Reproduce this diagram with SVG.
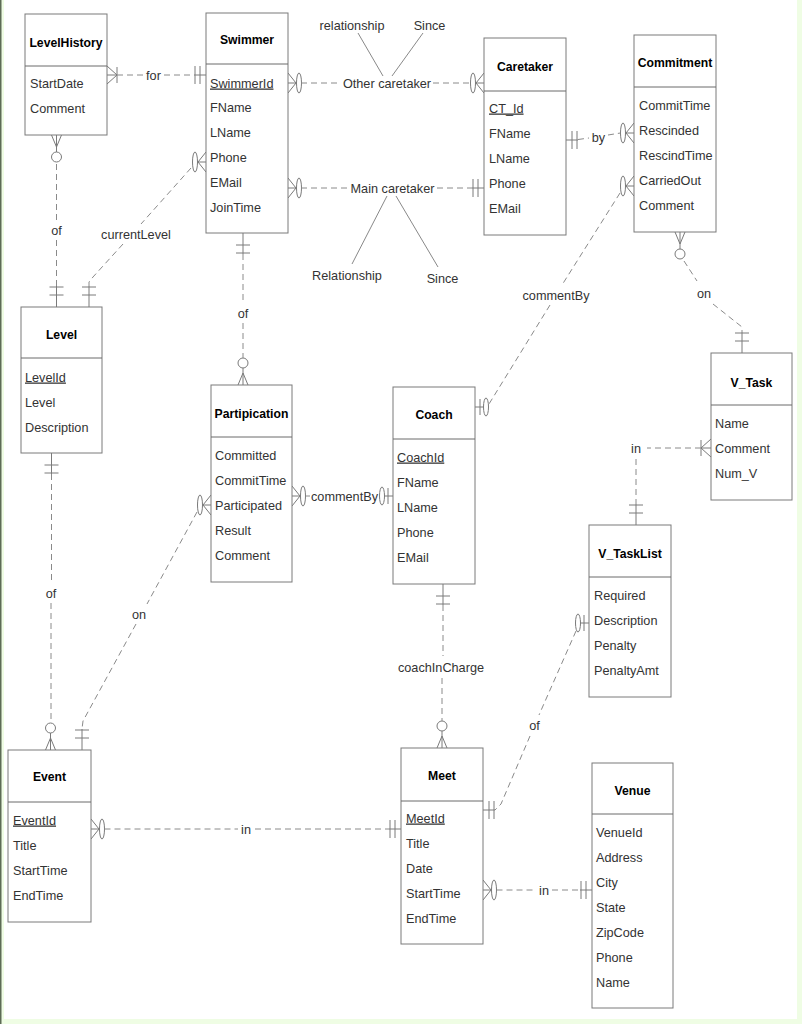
<svg xmlns="http://www.w3.org/2000/svg" width="802" height="1024" viewBox="0 0 802 1024">
<style>
.box{fill:#fff;stroke:#7a7a7a;stroke-width:1}
.div{stroke:#6a6a6a;stroke-width:1}
.title{font-family:"Liberation Sans",Arial,sans-serif;font-size:12.2px;font-weight:bold;fill:#000;text-anchor:middle}
.attr{font-family:"Liberation Sans",Arial,sans-serif;font-size:12.7px;fill:#333}
.key{text-decoration:underline}
.lbl{font-family:"Liberation Sans",Arial,sans-serif;font-size:12.7px;fill:#333;text-anchor:middle}
.dash{fill:none;stroke:#8a8a8a;stroke-width:1;stroke-dasharray:6 4}
.sym{fill:none;stroke:#7a7a7a;stroke-width:1}
.solid{fill:none;stroke:#7a7a7a;stroke-width:0.9}
</style>
<defs>
<g id="zmh" class="sym"><path d="M0,-10 L8,0 L0,10 M0,0 H8.5"/><ellipse cx="11" cy="0" rx="2.5" ry="10"/></g>
<g id="zmv" class="sym"><path d="M-5,0 L0,12 L5,0 M0,0 V17"/><circle cx="0" cy="22" r="5"/></g>
<g id="omh" class="sym"><path d="M0,-9 L10,0 L0,9 M0,0 H10 M10,-8 V8"/></g>
<g id="ooh" class="sym"><path d="M0,0 H12 M6,-9 V9 M11,-9 V9"/></g>
<g id="oov" class="sym"><path d="M0,0 V21 M-7,12 H7 M-7,20 H7"/></g>
<g id="zoh" class="sym"><path d="M0,0 H8.5 M5,-8 V8"/><ellipse cx="11" cy="0" rx="2.5" ry="9"/></g>
</defs>
<rect x="0" y="0" width="802" height="1024" fill="#effde4"/>
<rect x="4" y="0" width="793" height="1019" fill="#fff"/>
<rect x="0" y="0" width="1.5" height="1024" fill="#5d6b55"/>

<g id="connectors">
  <!-- for -->
  <use href="#omh" transform="translate(107,75)"/>
  <use href="#ooh" transform="translate(206,75) scale(-1,1)"/>
  <path class="dash" d="M117,75 H143 M164,75 H194"/>
  <text class="lbl" x="153.5" y="79.5">for</text>
  <!-- Other caretaker -->
  <use href="#zmh" transform="translate(288,83)"/>
  <use href="#zmh" transform="translate(484,83) scale(-1,1)"/>
  <path class="dash" d="M301,83 H341 M433,83 H470"/>
  <text class="lbl" x="387" y="87.5">Other caretaker</text>
  <path class="solid" d="M358,33 L383,76 M423,33 L392,76"/>
  <text class="lbl" x="352" y="29.5">relationship</text>
  <text class="lbl" x="429.5" y="29.5">Since</text>
  <!-- Main caretaker -->
  <use href="#zmh" transform="translate(288,188)"/>
  <use href="#ooh" transform="translate(484,188) scale(-1,1)"/>
  <path class="dash" d="M301,188 H348 M437,188 H472"/>
  <text class="lbl" x="392.5" y="192.5">Main caretaker</text>
  <path class="solid" d="M387,196 L352,264 M396,196 L438,267"/>
  <text class="lbl" x="347" y="279.5">Relationship</text>
  <text class="lbl" x="442.5" y="283">Since</text>
  <!-- by -->
  <use href="#ooh" transform="translate(566,140)"/>
  <use href="#zmh" transform="translate(634,133) scale(-1,1)"/>
  <path class="dash" d="M578,139.5 L589,138 M608,135 L620.5,133"/>
  <text class="lbl" x="598.5" y="141.5">by</text>
  <!-- commentBy Commitment-Coach -->
  <use href="#zmh" transform="translate(634,186) scale(-1,1)"/>
  <use href="#zoh" transform="translate(475,407)"/>
  <path class="dash" d="M620,193 L562,285 M550,305 L489,404"/>
  <text class="lbl" x="556" y="299.5">commentBy</text>
  <!-- on Commitment-V_Task -->
  <use href="#zmv" transform="translate(680,232)"/>
  <use href="#oov" transform="translate(742,353) scale(1,-1)"/>
  <path class="dash" d="M684,261 L697,281 M713,304 L742,327 V332"/>
  <text class="lbl" x="704" y="297.5">on</text>
  <!-- in V_Task-V_TaskList -->
  <use href="#omh" transform="translate(711,448) scale(-1,1)"/>
  <use href="#oov" transform="translate(636,525) scale(1,-1)"/>
  <path class="dash" d="M701,448 H647 M636,459 V504"/>
  <text class="lbl" x="636" y="452.5">in</text>
  <!-- of V_TaskList-Meet -->
  <use href="#zoh" transform="translate(589,623) scale(-1,1)"/>
  <use href="#ooh" transform="translate(483,810)"/>
  <path class="dash" d="M576,631 L539,715 M530,736 L501,804 L495,810"/>
  <text class="lbl" x="534.5" y="729.5">of</text>
  <!-- of LevelHistory-Level -->
  <use href="#zmv" transform="translate(56.5,135)"/>
  <use href="#oov" transform="translate(56.5,307) scale(1,-1)"/>
  <path class="dash" d="M56.5,164 V220 M56.5,240 V286"/>
  <text class="lbl" x="56.5" y="234.5">of</text>
  <!-- currentLevel -->
  <use href="#zmh" transform="translate(206,162) scale(-1,1)"/>
  <use href="#oov" transform="translate(89,307) scale(1,-1)"/>
  <path class="dash" d="M191,168 L141,224 M123,244 L93,277 L89,282 V286"/>
  <text class="lbl" x="136" y="238.5">currentLevel</text>
  <!-- of Swimmer-Partipication -->
  <use href="#oov" transform="translate(243,233)"/>
  <use href="#zmv" transform="translate(243,385) scale(1,-1)"/>
  <path class="dash" d="M243,254 V303 M243,323 V358"/>
  <text class="lbl" x="243" y="317.5">of</text>
  <!-- commentBy Partipication-Coach -->
  <use href="#zmh" transform="translate(292,496)"/>
  <use href="#zoh" transform="translate(393,496) scale(-1,1)"/>
  <path class="dash" d="M305.5,496 H310"/>
  <text class="lbl" x="344.5" y="500.5">commentBy</text>
  <!-- on Event-Partipication -->
  <use href="#zmh" transform="translate(211,505) scale(-1,1)"/>
  <use href="#oov" transform="translate(82,750) scale(1,-1)"/>
  <path class="dash" d="M197,512 L147,604 M136,624 L83,721 L82,729"/>
  <text class="lbl" x="139" y="618.5">on</text>
  <!-- of Level-Event -->
  <use href="#oov" transform="translate(51.5,453)"/>
  <use href="#zmv" transform="translate(50.5,750) scale(1,-1)"/>
  <path class="dash" d="M51.5,474 V583 M51,603 V723"/>
  <text class="lbl" x="51" y="597.5">of</text>
  <!-- in Event-Meet -->
  <use href="#zmh" transform="translate(91,829)"/>
  <use href="#ooh" transform="translate(401,829) scale(-1,1)"/>
  <path class="dash" d="M104.5,829 H238 M255,829 H389"/>
  <text class="lbl" x="246" y="833.5">in</text>
  <!-- coachInCharge -->
  <use href="#oov" transform="translate(443,584)"/>
  <use href="#zmv" transform="translate(442,748) scale(1,-1)"/>
  <path class="dash" d="M443,605 V656 M442,678 V721"/>
  <text class="lbl" x="441" y="671.5">coachInCharge</text>
  <!-- in Meet-Venue -->
  <use href="#zmh" transform="translate(483,890)"/>
  <use href="#ooh" transform="translate(592,890) scale(-1,1)"/>
  <path class="dash" d="M496.5,890 H536 M552,890 H580"/>
  <text class="lbl" x="544" y="894.5">in</text>
</g>

<g id="LevelHistory">
  <rect class="box" x="25" y="14" width="82" height="121"/>
  <line class="div" x1="25" y1="66" x2="107" y2="66"/>
  <text class="title" x="66" y="46.5">LevelHistory</text>
  <text class="attr" x="30" y="87.5">StartDate</text>
  <text class="attr" x="30" y="112.5">Comment</text>
</g>
<g id="Swimmer">
  <rect class="box" x="206" y="13" width="82" height="220"/>
  <line class="div" x1="206" y1="64" x2="288" y2="64"/>
  <text class="title" x="247" y="43.5">Swimmer</text>
  <text class="attr key" x="210" y="87.5">SwimmerId</text>
  <text class="attr" x="210" y="111.5">FName</text>
  <text class="attr" x="210" y="136.5">LName</text>
  <text class="attr" x="210" y="161.5">Phone</text>
  <text class="attr" x="210" y="186.5">EMail</text>
  <text class="attr" x="210" y="211.5">JoinTime</text>
</g>
<g id="Caretaker">
  <rect class="box" x="484" y="38" width="82" height="197"/>
  <line class="div" x1="484" y1="91" x2="566" y2="91"/>
  <text class="title" x="525" y="70.5">Caretaker</text>
  <text class="attr key" x="489" y="112.5">CT_Id</text>
  <text class="attr" x="489" y="137.5">FName</text>
  <text class="attr" x="489" y="162.5">LName</text>
  <text class="attr" x="489" y="187.5">Phone</text>
  <text class="attr" x="489" y="212.5">EMail</text>
</g>
<g id="Commitment">
  <rect class="box" x="634" y="35" width="82" height="197"/>
  <line class="div" x1="634" y1="87" x2="716" y2="87"/>
  <text class="title" x="675" y="66.5">Commitment</text>
  <text class="attr" x="639" y="109.5">CommitTime</text>
  <text class="attr" x="639" y="134.5">Rescinded</text>
  <text class="attr" x="639" y="159.5">RescindTime</text>
  <text class="attr" x="639" y="184.5">CarriedOut</text>
  <text class="attr" x="639" y="209.5">Comment</text>
</g>
<g id="Level">
  <rect class="box" x="21" y="307" width="81" height="146"/>
  <line class="div" x1="21" y1="358" x2="102" y2="358"/>
  <text class="title" x="61.5" y="338.5">Level</text>
  <text class="attr key" x="25" y="381.5">LevelId</text>
  <text class="attr" x="25" y="406.5">Level</text>
  <text class="attr" x="25" y="431.5">Description</text>
</g>
<g id="Partipication">
  <rect class="box" x="211" y="385" width="81" height="197"/>
  <line class="div" x1="211" y1="437" x2="292" y2="437"/>
  <text class="title" x="251.5" y="417.5">Partipication</text>
  <text class="attr" x="215" y="459.5">Committed</text>
  <text class="attr" x="215" y="484.5">CommitTime</text>
  <text class="attr" x="215" y="509.5">Participated</text>
  <text class="attr" x="215" y="534.5">Result</text>
  <text class="attr" x="215" y="559.5">Comment</text>
</g>
<g id="Coach">
  <rect class="box" x="393" y="387" width="82" height="197"/>
  <line class="div" x1="393" y1="439" x2="475" y2="439"/>
  <text class="title" x="434" y="418.5">Coach</text>
  <text class="attr key" x="397" y="461.5">CoachId</text>
  <text class="attr" x="397" y="486.5">FName</text>
  <text class="attr" x="397" y="511.5">LName</text>
  <text class="attr" x="397" y="536.5">Phone</text>
  <text class="attr" x="397" y="561.5">EMail</text>
</g>
<g id="V_Task">
  <rect class="box" x="711" y="353" width="81" height="147"/>
  <line class="div" x1="711" y1="405" x2="792" y2="405"/>
  <text class="title" x="751.5" y="386.5">V_Task</text>
  <text class="attr" x="715" y="427.5">Name</text>
  <text class="attr" x="715" y="452.5">Comment</text>
  <text class="attr" x="715" y="477.5">Num_V</text>
</g>
<g id="V_TaskList">
  <rect class="box" x="589" y="525" width="82" height="172"/>
  <line class="div" x1="589" y1="577" x2="671" y2="577"/>
  <text class="title" x="630" y="557.5">V_TaskList</text>
  <text class="attr" x="594" y="599.5">Required</text>
  <text class="attr" x="594" y="624.5">Description</text>
  <text class="attr" x="594" y="649.5">Penalty</text>
  <text class="attr" x="594" y="674.5">PenaltyAmt</text>
</g>
<g id="Event">
  <rect class="box" x="8" y="750" width="83" height="172"/>
  <line class="div" x1="8" y1="802" x2="91" y2="802"/>
  <text class="title" x="49.5" y="781">Event</text>
  <text class="attr key" x="13" y="824.5">EventId</text>
  <text class="attr" x="13" y="849.5">Title</text>
  <text class="attr" x="13" y="874.5">StartTime</text>
  <text class="attr" x="13" y="899.5">EndTime</text>
</g>
<g id="Meet">
  <rect class="box" x="401" y="748" width="82" height="196"/>
  <line class="div" x1="401" y1="801" x2="483" y2="801"/>
  <text class="title" x="442" y="779.5">Meet</text>
  <text class="attr key" x="406" y="822.5">MeetId</text>
  <text class="attr" x="406" y="847.5">Title</text>
  <text class="attr" x="406" y="872.5">Date</text>
  <text class="attr" x="406" y="897.5">StartTime</text>
  <text class="attr" x="406" y="922.5">EndTime</text>
</g>
<g id="Venue">
  <rect class="box" x="592" y="763" width="81" height="245"/>
  <line class="div" x1="592" y1="814" x2="673" y2="814"/>
  <text class="title" x="632.5" y="794.5">Venue</text>
  <text class="attr" x="596" y="836.5">VenueId</text>
  <text class="attr" x="596" y="861.5">Address</text>
  <text class="attr" x="596" y="886.5">City</text>
  <text class="attr" x="596" y="911.5">State</text>
  <text class="attr" x="596" y="936.5">ZipCode</text>
  <text class="attr" x="596" y="961.5">Phone</text>
  <text class="attr" x="596" y="986.5">Name</text>
</g>
</svg>
